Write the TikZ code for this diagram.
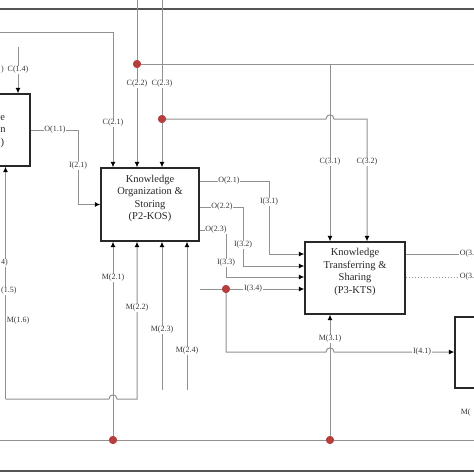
\documentclass[tikz,border=0pt]{standalone}
\usepackage{fontspec}
\setmainfont{Liberation Serif}
\usetikzlibrary{arrows.meta}
\definecolor{wiregray}{RGB}{145,145,145}
\definecolor{boxc}{RGB}{40,40,40}
\definecolor{txt}{RGB}{55,55,55}
\definecolor{dotred}{RGB}{182,62,62}
\definecolor{borderc}{RGB}{85,85,85}
\begin{document}
\begin{tikzpicture}[x=1pt,y=-1pt,
  wire/.style={draw=wiregray, line width=1pt},
  arr/.style={wire, -{Latex[length=5.5pt,width=5pt,color=black]}},
  border/.style={draw=borderc, line width=1.6pt},
  box/.style={draw=boxc, line width=1.3pt, fill=white, inner sep=0},
  boxtext/.style={align=center, inner sep=0, text=boxc, font=\fontsize{10.5}{12.4}\selectfont},
  lbl/.style={fill=white, inner sep=0.6pt, text=txt, font=\fontsize{8}{9}\selectfont},
  dot/.style={circle, fill=dotred, inner sep=0, minimum size=8pt},
]
\useasboundingbox (0,0) rectangle (474,474);
\clip (0,0) rectangle (474,474);
\fill[white] (0,0) rectangle (474,474);

% boxes
\node[box, minimum width=100pt, minimum height=72pt] (P1) at (-20,130) {};
\node[box, minimum width=98pt, minimum height=73pt] (P2) at (150,204.5) {};
\node[box, minimum width=100pt, minimum height=72pt] (P3) at (355,278) {};
\node[box, minimum width=100pt, minimum height=71pt] (P4) at (505,352.5) {};
\node[boxtext] (P2t) at (150,198.5) {Knowledge\\Organization \&\\Storing\\(P2-KOS)};
\node[boxtext] (P3t) at (355,272) {Knowledge\\Transferring \&\\Sharing\\(P3-KTS)};
\node[boxtext, anchor=west] (P1a) at (0.3,118) {e};
\node[boxtext, anchor=west] (P1b) at (0.3,130.5) {n};
\node[boxtext, anchor=west] (P1c) at (0.5,142.5) {)};

% coordinates
\coordinate (tl) at (0,9); \coordinate (tr) at (474,9);
\coordinate (bl) at (0,471); \coordinate (br) at (474,471);
\coordinate (busl) at (0,440); \coordinate (busr) at (474,440);
\coordinate (c14s) at (18,47);
\coordinate (c21a) at (0,32); \coordinate (c21b) at (113,32);
\coordinate (c22s) at (137,0); \coordinate (c23s) at (162,0);
\coordinate (c3r) at (474,64); \coordinate (c31a) at (330,64);
\coordinate (c32b) at (367,119);
\coordinate (o11b) at (78,130); \coordinate (o11c) at (78,204.5);
\coordinate (o21) at (269,181); \coordinate (o21b) at (269,254);
\coordinate (o22) at (243,207); \coordinate (o22b) at (243,266);
\coordinate (o23) at (226,230); \coordinate (o23b) at (226,277);
\coordinate (i34s) at (200,289);
\coordinate (i41b) at (226,352);
\coordinate (o31) at (459,254); \coordinate (o32) at (459,277);
\coordinate (m16c) at (5.5,399); \coordinate (m22b) at (137,399);
\coordinate (m23s) at (162,390); \coordinate (m24s) at (187,390);

% dots (positions)
\node[dot] (dA) at (137,64) {};
\node[dot] (dB) at (162,119) {};
\node[dot] (dC) at (226,289) {};
\node[dot] (d1) at (113,440) {};
\node[dot] (d2) at (330,440) {};

% borders and bus
\draw[border] (tl) -- (tr);
\draw[border] (bl) -- (br);
\draw[wire] (busl) -- (busr);

% controls
\draw[arr] (c14s) -- (c14s |- P1.north);
\draw[arr] (c21a) -- (c21b) -- (c21b |- P2.north);
\draw[arr] (c22s) -- (c22s |- P2.north);
\draw[arr] (c23s) -- (c23s |- P2.north);
\draw[wire] (dA) -- (c3r);
\draw[arr] (c31a) -- (c31a |- P3.north);
\draw[arr] (dB) -- (326,119) .. controls (326,113.5) and (334,113.5) .. (334,119) -- (c32b) -- (c32b |- P3.north);

% inputs / outputs
\draw[arr] (P1.east |- o11b) -- (o11b) -- (o11c) -- (o11c -| P2.west);
\draw[arr] (P2.east |- o21) -- (o21) -- (o21b) -- (o21b -| P3.west);
\draw[arr] (P2.east |- o22) -- (o22) -- (o22b) -- (o22b -| P3.west);
\draw[arr] (P2.east |- o23) -- (o23) -- (o23b) -- (o23b -| P3.west);
\draw[arr] (i34s) -- (i34s -| P3.west);
\draw[arr] (dC) -- (i41b) -- (326,352) .. controls (326,346.5) and (334,346.5) .. (334,352) -- (i41b -| P4.west);
\draw[wire] (P3.east |- o31) -- (o31);
\draw[wire, dotted] (P3.east |- o32) -- (o32);

% mechanisms
\draw[arr] (d1) -- (d1 |- P2.south);
\draw[arr] (d2) -- (d2 |- P3.south);
\draw[arr] (m16c) -- (m16c |- P1.south);
\draw[arr] (m16c) -- (109,399) .. controls (109,393.5) and (117,393.5) .. (117,399) -- (m22b) -- (m22b |- P2.south);
\draw[arr] (m23s) -- (m23s |- P2.south);
\draw[arr] (m24s) -- (m24s |- P2.south);

% redraw dots on top
\node[dot] at (dA) {};
\node[dot] at (dB) {};
\node[dot] at (dC) {};
\node[dot] at (d1) {};
\node[dot] at (d2) {};

% labels
\node[lbl, anchor=west] (l13) at (0.3,70) {)};
\node[lbl] (l14) at (18,70) {C(1.4)};
\node[lbl] (l21) at (113,123) {C(2.1)};
\node[lbl] (l22) at (137,84) {C(2.2)};
\node[lbl] (l23) at (162,84) {C(2.3)};
\node[lbl] (l31) at (330,162) {C(3.1)};
\node[lbl] (l32) at (367,162) {C(3.2)};
\node[lbl] (lo11) at (55,130) {O(1.1)};
\node[lbl] (li21) at (78,166) {I(2.1)};
\node[lbl] (lo21) at (229,181) {O(2.1)};
\node[lbl] (lo22) at (222,207) {O(2.2)};
\node[lbl] (lo23) at (216,230) {O(2.3)};
\node[lbl] (li31) at (269,202) {I(3.1)};
\node[lbl] (li32) at (243,245) {I(3.2)};
\node[lbl] (li33) at (226,263) {I(3.3)};
\node[lbl] (li34) at (253,289) {I(3.4)};
\node[lbl] (li41) at (422,352) {I(4.1)};
\node[lbl, anchor=west] (lo31) at (o31) {O(3.};
\node[lbl, anchor=west] (lo32) at (o32) {O(3.};
\node[lbl] (lm31) at (330,339) {M(3.1)};
\node[lbl] (lm21) at (113,278) {M(2.1)};
\node[lbl] (lm22) at (137,308) {M(2.2)};
\node[lbl] (lm23) at (162,330) {M(2.3)};
\node[lbl] (lm24) at (187,351) {M(2.4)};
\node[lbl, anchor=west] (lm14) at (0.3,263) {4)};
\node[lbl, anchor=west] (lm15) at (0.3,291) {(1.5)};
\node[lbl] (lm16) at (18,321) {M(1.6)};
\node[lbl, anchor=west] (lm4) at (460,413) {M(};
\end{tikzpicture}
\end{document}
